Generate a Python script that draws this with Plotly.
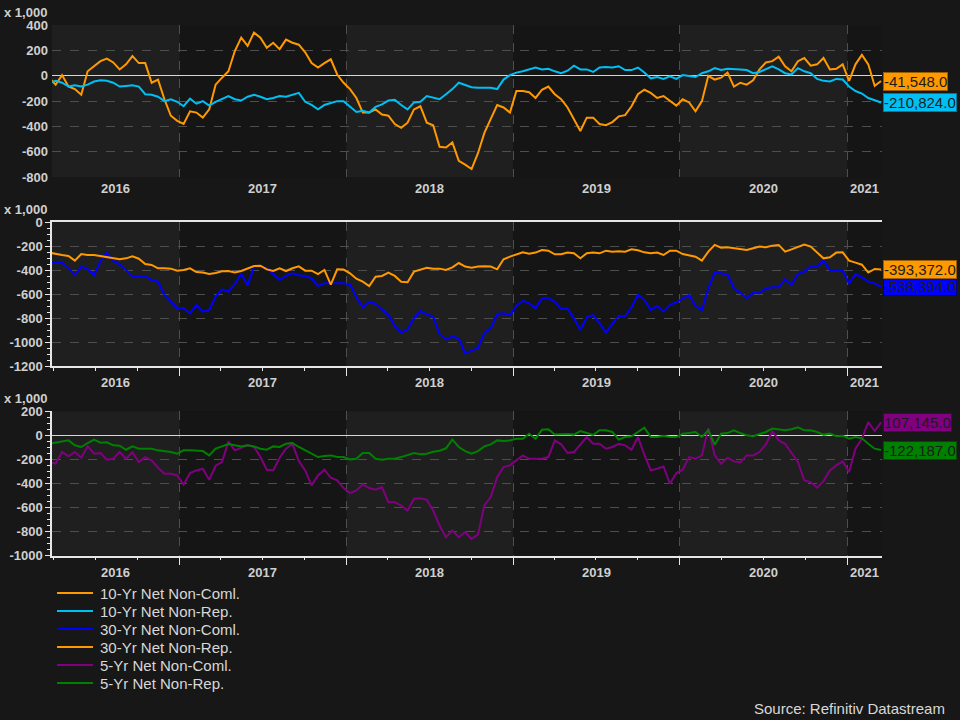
import pandas as pd
import plotly.graph_objects as go

# ---------------- data (thousands of contracts, bi-weekly) ----------------
DATES = pd.date_range(end="2021-03-16", periods=131, freq="14D")

TEN_COML = [-15, -70, 5, -85, -105, -150, 35, 75, 115, 135,
            105, 50, 90, 155, 100, 100, -55, -30, -185, -315,
            -355, -380, -280, -290, -330, -265, -70, -15, 35, 195,
            300, 235, 340, 300, 220, 260, 210, 285, 260, 245,
            185, 100, 65, 100, 130, 10, -55, -105, -175, -290,
            -290, -265, -305, -315, -380, -410, -370, -265, -240, -370,
            -390, -560, -565, -525, -670, -700, -735, -610, -450, -340,
            -230, -250, -290, -120, -120, -130, -175, -110, -85, -145,
            -185, -250, -345, -435, -330, -330, -380, -390, -365, -320,
            -310, -240, -145, -110, -135, -175, -160, -200, -235, -185,
            -210, -280, -200, 0, -30, -15, 25, -85, -55, -70,
            -35, 50, 105, 115, 150, 75, 35, 115, 140, 80,
            90, 140, 50, 55, 90, -40, 90, 165, 90, -80,
            -41.548]

TEN_REP = [-55, -40, -55, -85, -75, -85, -70, -45, -35, -40,
           -55, -85, -80, -75, -85, -145, -150, -165, -200, -185,
           -205, -240, -180, -220, -200, -235, -205, -180, -160, -185,
           -195, -165, -150, -165, -185, -175, -160, -165, -150, -135,
           -205, -230, -265, -230, -215, -200, -200, -245, -285, -275,
           -290, -245, -225, -195, -190, -230, -265, -210, -205, -160,
           -170, -185, -145, -105, -55, -70, -90, -95, -95, -95,
           -105, -30, 5, 25, 35, 50, 65, 50, 55, 35,
           20, 40, 80, 50, 50, 30, 65, 70, 65, 75,
           45, 45, 65, 25, -20, -10, -25, -5, -25, 5,
           0, -10, 20, 35, 60, 45, 55, 55, 50, 45,
           20, 30, 55, 75, 50, 20, 10, 60, 35, 20,
           -25, -40, -45, -25, -30, -85, -120, -140, -175, -195,
           -210.824]

THIRTY_COML = [-329, -334, -337, -384, -440, -370, -390, -440, -323, -253,
               -323, -351, -398, -454, -451, -448, -482, -496, -607, -663,
               -718, -718, -760, -690, -746, -732, -621, -560, -579, -515,
               -432, -524, -370, -370, -384, -432, -482, -446, -426, -443,
               -448, -468, -532, -510, -510, -507, -510, -518, -627, -710,
               -663, -682, -732, -774, -866, -922, -894, -802, -741, -769,
               -788, -933, -978, -955, -969, -1095, -1072, -1050, -922, -886,
               -766, -760, -774, -699, -654, -677, -718, -635, -635, -663,
               -724, -721, -802, -900, -794, -774, -844, -922, -849, -780,
               -785, -710, -604, -649, -732, -699, -746, -690, -668, -635,
               -607, -699, -732, -551, -420, -426, -437, -551, -588, -635,
               -588, -593, -551, -543, -543, -476, -524, -432, -412, -370,
               -370, -320, -398, -398, -404, -510, -432, -460, -496, -510,
               -538.394]

THIRTY_REP = [-253, -265, -273, -281, -320, -265, -273, -273, -281, -290,
              -301, -309, -301, -284, -304, -348, -356, -384, -384, -387,
              -404, -398, -384, -415, -420, -432, -423, -409, -407, -418,
              -407, -384, -365, -362, -393, -407, -384, -407, -384, -368,
              -404, -404, -432, -398, -520, -393, -395, -426, -471, -496,
              -532, -454, -448, -420, -448, -496, -501, -412, -398, -379,
              -387, -387, -398, -376, -340, -370, -379, -370, -368, -370,
              -393, -309, -287, -267, -251, -262, -253, -231, -237, -267,
              -267, -253, -259, -301, -259, -253, -259, -237, -245, -242,
              -245, -226, -234, -251, -259, -253, -273, -237, -237, -265,
              -273, -287, -320, -245, -189, -212, -209, -217, -220, -231,
              -217, -203, -209, -195, -189, -245, -226, -203, -185, -203,
              -253, -301, -292, -253, -251, -320, -337, -354, -420, -390,
              -393.372]

FIVE_COML = [-222, -236, -139, -175, -139, -186, -90, -153, -147, -203,
             -195, -139, -195, -142, -222, -181, -209, -270, -320, -320,
             -334, -411, -314, -292, -278, -370, -253, -222, -50, -125,
             -103, -83, -97, -181, -286, -292, -186, -111, -70, -214,
             -292, -417, -334, -286, -353, -375, -439, -481, -459, -409,
             -439, -453, -431, -556, -556, -584, -626, -528, -523, -537,
             -626, -751, -848, -792, -848, -806, -862, -826, -584, -514,
             -348, -264, -250, -209, -167, -195, -195, -195, -181, -42,
             -75, -147, -139, -75, -14, -70, -70, -111, -97, -70,
             -83, -120, -14, -161, -292, -278, -259, -403, -314, -286,
             -181, -195, -167, 60, -167, -236, -186, -217, -225, -167,
             -167, -139, -75, 36, -42, -70, -147, -222, -375, -389,
             -436, -381, -292, -250, -217, -306, -111, -28, 111, 36,
             107.145]

FIVE_REP = [-70, -61, -53, -42, -83, -97, -64, -36, -61, -58,
            -83, -86, -120, -92, -111, -114, -111, -125, -131, -139,
            -153, -125, -125, -128, -131, -167, -111, -92, -72, -83,
            -92, -83, -92, -111, -120, -92, -97, -70, -64, -97,
            -125, -147, -181, -172, -167, -181, -181, -200, -195, -147,
            -147, -195, -203, -195, -195, -181, -161, -147, -158, -153,
            -136, -128, -108, -35, -97, -131, -153, -131, -92, -75,
            -42, -47, -42, -28, -28, 14, -28, 47, 50, 6,
            8, 11, 6, 36, 19, 3, 42, 42, 28, -36,
            -14, -8, 28, 64, -14, -14, -3, -14, -14, 14,
            19, 28, -14, 42, -78, 14, 19, 42, 19, 0,
            -8, 8, 28, 56, 47, 42, 50, 67, 42, 42,
            28, 6, 14, -8, -3, -28, -14, -25, -70, -111,
            -122.187]

SERIES_NAMES = ["10-Yr Net Non-Coml.", "10-Yr Net Non-Rep.",
                "30-Yr Net Non-Coml.", "30-Yr Net Non-Rep.",
                "5-Yr Net Non-Coml.", "5-Yr Net Non-Rep."]

YEAR_LABELS = ["2016", "2017", "2018", "2019", "2020", "2021"]
Y1_TICKS = [-800, -600, -400, -200, 0, 200, 400]
Y2_TICKS = [-1200, -1000, -800, -600, -400, -200, 0]
Y3_TICKS = [-1000, -800, -600, -400, -200, 0, 200]
SOURCE = "Source: Refinitiv Datastream"
UNIT = "x 1,000"

# ---------------- style ----------------
ORANGE = "#FF9900"
CYAN = "#00BFF3"
BLUE = "#0000FF"
PURPLE = "#800080"
GREEN = "#008000"
BORDER = {ORANGE: "#9a5c00", CYAN: "#007a99", BLUE: "#00008a",
          PURPLE: "#4a004a", GREEN: "#004a00"}
PAPER_BG = "#171717"
PLOT_BG = "#151515"
BAND_BG = "#1f1f1f"
GRID = "#4e4e4e"
AXIS = "#e6e6e6"
TICK_TXT = "#cfcfcf"
LEGEND_TXT = "#d8d8d8"
FONT = "Liberation Sans, Arial, sans-serif"

X_RANGE = ["2016-03-28", "2021-03-18"]
YEAR_STARTS = [pd.Timestamp(f"{y}-01-01") for y in range(2017, 2022)]

series = [
    (SERIES_NAMES[0], TEN_COML, ORANGE, "x", "y"),
    (SERIES_NAMES[1], TEN_REP, CYAN, "x", "y"),
    (SERIES_NAMES[2], THIRTY_COML, BLUE, "x2", "y2"),
    (SERIES_NAMES[3], THIRTY_REP, ORANGE, "x2", "y2"),
    (SERIES_NAMES[4], FIVE_COML, PURPLE, "x3", "y3"),
    (SERIES_NAMES[5], FIVE_REP, GREEN, "x3", "y3"),
]

fig = go.Figure()
for name, vals, color, xa, ya in series:
    fig.add_trace(go.Scatter(x=DATES, y=vals, name=name, mode="lines",
                             line=dict(color=color, width=2),
                             xaxis=xa, yaxis=ya, showlegend=False,
                             hoverinfo="skip"))

tickfont = dict(family=FONT, size=13, color=TICK_TXT, weight="bold")


def xaxis_cfg(anchor, framed, mirror=False):
    cfg = dict(domain=[0, 1], anchor=anchor, type="date", range=X_RANGE,
               tickmode="array", tickvals=YEAR_STARTS, showticklabels=False,
               showgrid=True, gridcolor=GRID, griddash="dash", gridwidth=1,
               zeroline=False, fixedrange=True, automargin=False)
    if framed:
        cfg.update(ticks="outside", ticklen=8, tickcolor=AXIS, tickwidth=1,
                   showline=True, linecolor=AXIS, linewidth=1.5, mirror=mirror,
                   minor=dict(dtick="M3", tick0="2016-01-01", ticks="outside",
                              ticklen=3, tickcolor=AXIS, tickwidth=1,
                              showgrid=False))
    else:
        cfg.update(ticks="", showline=False)
    return cfg


def yaxis_cfg(anchor, domain, rng, ticks, framed, zeroline):
    cfg = dict(domain=domain, anchor=anchor, range=rng, tickmode="array",
               tickvals=ticks, ticktext=[str(t) for t in ticks],
               tickfont=tickfont, showgrid=True, gridcolor=GRID,
               griddash="dash", gridwidth=1, zeroline=zeroline,
               zerolinecolor="#d6d6d6", zerolinewidth=1, fixedrange=True,
               automargin=False)
    if framed:
        cfg.update(ticks="outside", ticklen=5, tickcolor=AXIS, tickwidth=1,
                   showline=True, linecolor=AXIS, linewidth=1.5,
                   minor=dict(dtick=50, ticks="outside", ticklen=3,
                              tickcolor=AXIS, tickwidth=1, showgrid=False))
    else:
        cfg.update(ticks="", showline=False, ticklabelstandoff=3)
    return cfg


H = 720.0
W_PLOT = 830.0
D1 = [1 - 177.3 / H, 1 - 25.0 / H]
D2 = [1 - 366.0 / H, 1 - 222.3 / H]
D3 = [1 - 555.5 / H, 1 - 411.3 / H]

fig.update_layout(
    width=960, height=720,
    margin=dict(l=52, r=78, t=0, b=0, pad=0, autoexpand=False),
    paper_bgcolor=PAPER_BG, plot_bgcolor=PLOT_BG,
    font=dict(family=FONT, color=TICK_TXT),
    xaxis=xaxis_cfg("y", False),
    xaxis2=xaxis_cfg("y2", True, mirror=True),
    xaxis3=xaxis_cfg("y3", True),
    yaxis=yaxis_cfg("x", D1, [-800, 400], Y1_TICKS, False, True),
    yaxis2=yaxis_cfg("x2", D2, [-1200, 0], Y2_TICKS, True, False),
    yaxis3=yaxis_cfg("x3", D3, [-1000, 200], Y3_TICKS, True, True),
    showlegend=False,
)

# alternating year bands
band_ranges = [(X_RANGE[0], "2017-01-01"), ("2018-01-01", "2019-01-01"),
               ("2020-01-01", "2021-01-01")]
for xa, ya in [("x", "y"), ("x2", "y2"), ("x3", "y3")]:
    for x0, x1 in band_ranges:
        fig.add_shape(type="rect", xref=xa, yref=f"{ya} domain",
                      x0=x0, x1=x1, y0=0, y1=1, fillcolor=BAND_BG,
                      line=dict(width=0), layer="below")

# year labels centred in visible part of each year
start, end = pd.Timestamp(X_RANGE[0]), pd.Timestamp(X_RANGE[1])
label_pos = []
for lab in YEAR_LABELS:
    y0 = max(pd.Timestamp(f"{lab}-01-01"), start)
    y1 = min(pd.Timestamp(f"{int(lab) + 1}-01-01"), end)
    label_pos.append(y0 + (y1 - y0) / 2)

for xa, ya, shift in [("x", "y", -10.7), ("x2", "y2", -16), ("x3", "y3", -16.5)]:
    for lab, pos in zip(YEAR_LABELS, label_pos):
        fig.add_annotation(x=pos, y=0, xref=xa, yref=f"{ya} domain",
                           text=lab, showarrow=False, yanchor="middle",
                           yshift=shift, font=tickfont)

# unit labels
for ypx in [12, 209, 398]:
    fig.add_annotation(x=(3 - 52) / W_PLOT, y=1 - ypx / H, xref="paper",
                       yref="paper", text=UNIT, showarrow=False,
                       xanchor="left", yanchor="middle", font=tickfont,
                       borderpad=0)

# last value labels
for name, vals, color, xa, ya in series:
    last = vals[-1]
    fig.add_annotation(x=1, y=last, xref="paper", yref=ya,
                       text=f"{last * 1000:,.1f}", showarrow=False,
                       xanchor="left", yanchor="middle", xshift=1,
                       bgcolor=color, bordercolor=BORDER[color],
                       borderwidth=1, borderpad=0,
                       font=dict(family=FONT, size=15, color="#1c1c1c"))

# legend (compact, as in the reference)
for k, (name, vals, color, xa, ya) in enumerate(series):
    ypx = 593 + 18 * k
    yp = 1 - ypx / H
    fig.add_shape(type="line", xref="paper", yref="paper",
                  x0=(57 - 52) / W_PLOT, x1=(93 - 52) / W_PLOT, y0=yp, y1=yp,
                  line=dict(color=color, width=2))
    fig.add_annotation(x=(99 - 52) / W_PLOT, y=yp, xref="paper", yref="paper",
                       text=name, showarrow=False, xanchor="left",
                       yanchor="middle", borderpad=0,
                       font=dict(family=FONT, size=15, color=LEGEND_TXT))

# source
fig.add_annotation(x=(947 - 52) / W_PLOT, y=1 - 708 / H, xref="paper",
                   yref="paper", text=SOURCE, showarrow=False,
                   xanchor="right", yanchor="middle",
                   font=dict(family=FONT, size=15, color=LEGEND_TXT))

fig.write_html("out.html", config={"displayModeBar": False},
               post_script="document.body.style.margin='0';"
                           "document.body.style.background='#171717';")
